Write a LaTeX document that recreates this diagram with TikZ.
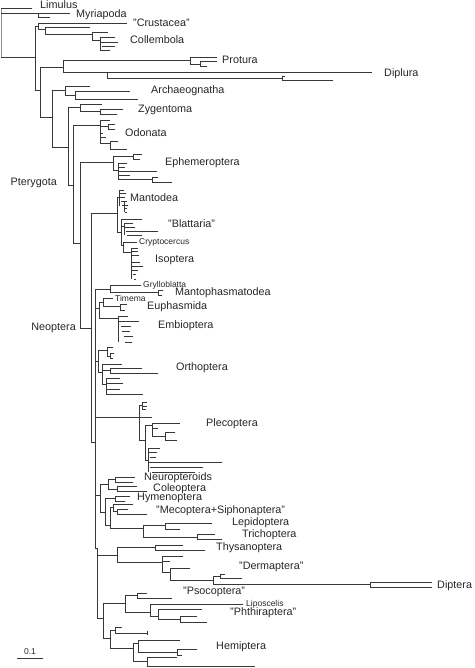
\documentclass[tikz,border=0pt]{standalone}
\usepackage{fontspec}
\setmainfont{Liberation Sans}
\newcommand\hseg[3]{\draw[br] (#2,#1) -- (#3,#1);}
\newcommand\vseg[3]{\draw[br] (#1,#2) -- (#1,#3);}
\begin{document}
\begin{tikzpicture}[x=1pt,y=-1pt,
 br/.style={line width=0.65pt,draw=black!78,line cap=rect},
 lab/.style={anchor=west,inner sep=0pt,font=\fontsize{10.8}{10.8}\selectfont,text=black!85},
 labr/.style={anchor=east,inner sep=0pt,font=\fontsize{10.8}{10.8}\selectfont,text=black!85},
 sml/.style={anchor=west,inner sep=0pt,font=\fontsize{8.5}{8.5}\selectfont,text=black!85}]
\useasboundingbox (0,0) rectangle (474,668);
% root
\draw[br,draw=black!45] (1,8) -- (1,57);
\hseg{8}{1}{32}
\hseg{13}{1}{38}
\vseg{38}{13}{17}
\hseg{13}{38}{70}
\hseg{17}{38}{50}
\hseg{57}{1}{35}
\vseg{35}{26}{90}
% Crustacea + Collembola
\hseg{26}{35}{38}
\vseg{38}{23}{29}
\hseg{23}{38}{127}
\hseg{29}{38}{45}
\vseg{45}{27}{34}
\hseg{27}{45}{90}
\hseg{34}{45}{92}
\vseg{92}{32}{40}
\hseg{32}{92}{108}
\hseg{40}{92}{100}
\vseg{100}{37}{50}
\hseg{37}{100}{115}
\hseg{42}{100}{118}
\hseg{46}{102}{115}
\hseg{50}{100}{110}
% Protura / Diplura
\hseg{90}{35}{40}
\vseg{40}{67}{117}
\hseg{67}{40}{63}
\vseg{63}{60}{72}
\hseg{60}{63}{190}
\vseg{190}{57}{64}
\hseg{57}{190}{217}
\hseg{64}{190}{200}
\vseg{200}{61}{66}
\hseg{61}{200}{217}
\hseg{66}{200}{207}
\hseg{72}{63}{372}
\vseg{107}{72}{78}
\hseg{78}{107}{282}
\vseg{282}{76}{80}
\hseg{76}{282}{285}
\hseg{80}{282}{333}
% Archaeognatha
\hseg{117}{40}{52}
\vseg{52}{90}{147}
\hseg{90}{52}{65}
\vseg{65}{86}{95}
\hseg{86}{65}{90}
\hseg{95}{65}{75}
\vseg{75}{91}{99}
\hseg{91}{75}{130}
\hseg{99}{75}{138}
% Zygentoma
\hseg{147}{52}{68}
\vseg{68}{107}{185}
\hseg{107}{68}{80}
\vseg{80}{104}{111}
\hseg{104}{80}{102}
\hseg{111}{80}{100}
\vseg{100}{109}{114}
\hseg{109}{100}{123}
\hseg{114}{100}{117}
% Pterygota
\hseg{185}{68}{73}
\vseg{73}{125}{243}
% Odonata
\hseg{125}{73}{100}
\vseg{100}{120}{143}
\hseg{120}{100}{110}
\hseg{126}{100}{108}
\vseg{108}{124}{129}
\hseg{124}{108}{115}
\hseg{129}{108}{115}
\hseg{133}{100}{103}
\hseg{137}{100}{106}
\hseg{143}{100}{110}
\vseg{110}{141}{149}
\hseg{141}{110}{118}
\hseg{149}{110}{127}
% Ephemeroptera
\hseg{243}{73}{80}
\vseg{80}{162}{328}
\hseg{162}{80}{113}
\vseg{113}{156}{170}
\hseg{156}{113}{133}
\vseg{133}{154}{159}
\hseg{154}{133}{142}
\hseg{159}{133}{140}
\hseg{170}{113}{118}
\vseg{118}{163}{179}
\hseg{163}{118}{127}
\hseg{167}{118}{125}
\hseg{171}{118}{157}
\hseg{175}{118}{130}
\hseg{179}{118}{152}
\vseg{152}{177}{182}
\hseg{177}{152}{158}
\hseg{182}{152}{172}
% Neoptera
\hseg{328}{80}{91}
\vseg{91}{213}{442}
% Dictyoptera
\hseg{213}{91}{117}
\vseg{117}{197}{232}
\hseg{197}{117}{119}
\vseg{119}{190}{206}
\hseg{190}{119}{124}
\hseg{193}{120}{126}
\hseg{197}{119}{125}
\hseg{201}{121}{127}
\hseg{205}{122}{128}
\vseg{124}{201}{212}
\hseg{208}{124}{127}
\hseg{212}{125}{127}
\hseg{232}{117}{121}
\vseg{121}{219}{245}
\hseg{219}{121}{142}
\hseg{226}{121}{124}
\vseg{124}{223}{235}
\hseg{223}{124}{133}
\hseg{227}{125}{135}
\hseg{231}{126}{158}
\hseg{235}{127}{142}
\hseg{245}{121}{123}
\vseg{123}{242}{252}
\hseg{242}{123}{137}
\hseg{252}{123}{131}
\vseg{131}{248}{279}
\hseg{248}{131}{138}
\hseg{251}{132}{138}
\hseg{255}{132}{139}
\hseg{262}{131}{140}
\hseg{266}{131}{143}
\hseg{270}{132}{138}
\hseg{274}{133}{136}
\hseg{279}{134}{136}
% Polyneoptera rest
\hseg{442}{91}{95}
\vseg{95}{289}{548}
\hseg{289}{95}{110}
\vseg{110}{285}{292}
\hseg{285}{110}{141}
\hseg{292}{110}{158}
\vseg{158}{290}{295}
\hseg{290}{158}{163}
\hseg{295}{158}{162}
\hseg{308}{95}{99}
\vseg{99}{302}{318}
\hseg{302}{99}{103}
\vseg{103}{298}{306}
\hseg{298}{103}{113}
\hseg{306}{103}{120}
\vseg{120}{304}{310}
\hseg{304}{120}{127}
\hseg{310}{120}{125}
\hseg{318}{99}{118}
\vseg{118}{316}{342}
\hseg{316}{118}{128}
\hseg{321}{119}{139}
\hseg{326}{121}{131}
\hseg{331}{122}{130}
\hseg{336}{124}{133}
\hseg{342}{125}{132}
% Orthoptera
\hseg{361}{95}{98}
\vseg{98}{350}{372}
\hseg{350}{98}{107}
\vseg{107}{347}{356}
\hseg{347}{107}{113}
\hseg{356}{107}{110}
\vseg{110}{353}{358}
\hseg{353}{110}{114}
\hseg{358}{110}{113}
\hseg{372}{98}{102}
\vseg{102}{364}{384}
\hseg{364}{102}{122}
\hseg{370}{102}{110}
\vseg{110}{368}{373}
\hseg{368}{110}{142}
\hseg{373}{110}{158}
\hseg{384}{102}{106}
\vseg{106}{378}{394}
\hseg{378}{106}{120}
\hseg{383}{106}{123}
\hseg{389}{107}{120}
\hseg{394}{106}{143}
% Plecoptera
\hseg{417}{95}{152}
\vseg{139}{405}{440}
\hseg{405}{139}{142}
\vseg{142}{402}{409}
\hseg{402}{142}{147}
\hseg{406}{142}{147}
\hseg{409}{142}{146}
\hseg{440}{139}{145}
\vseg{145}{425}{460}
\hseg{425}{145}{152}
\vseg{152}{423}{436}
\hseg{423}{152}{180}
\hseg{428}{153}{158}
\hseg{436}{152}{165}
\vseg{165}{432}{440}
\hseg{432}{165}{175}
\hseg{440}{165}{177}
\hseg{460}{145}{148}
\vseg{148}{448}{472}
\hseg{448}{148}{160}
\hseg{452}{149}{157}
\hseg{457}{150}{156}
\hseg{462}{148}{222}
\hseg{467}{150}{203}
\hseg{472}{152}{195}
% Holometabola
\hseg{495}{95}{100}
\vseg{100}{484}{512}
\hseg{484}{100}{108}
\vseg{108}{479}{489}
\hseg{479}{108}{115}
\vseg{115}{477}{482}
\hseg{477}{115}{135}
\hseg{482}{115}{133}
\hseg{489}{108}{117}
\vseg{117}{486}{491}
\hseg{486}{117}{137}
\hseg{491}{117}{147}
\hseg{512}{100}{105}
\vseg{105}{498}{525}
\hseg{498}{105}{115}
\vseg{115}{496}{501}
\hseg{496}{115}{130}
\hseg{501}{115}{125}
\hseg{525}{105}{110}
\vseg{110}{507}{528}
\hseg{507}{110}{113}
\vseg{113}{504}{511}
\hseg{504}{113}{133}
\hseg{511}{113}{117}
\vseg{117}{509}{514}
\hseg{509}{117}{128}
\hseg{514}{117}{147}
\hseg{528}{110}{143}
\vseg{143}{525}{537}
\hseg{525}{143}{165}
\vseg{165}{523}{529}
\hseg{523}{165}{212}
\hseg{529}{165}{180}
\hseg{537}{143}{197}
\vseg{197}{534}{539}
\hseg{534}{197}{215}
\hseg{539}{197}{222}
% Paraneoptera
\hseg{548}{95}{97}
\vseg{97}{548}{618}
\hseg{555}{97}{117}
\vseg{117}{547}{562}
\hseg{547}{117}{155}
\vseg{155}{545}{550}
\hseg{545}{155}{183}
\hseg{550}{155}{205}
\hseg{562}{117}{162}
\vseg{162}{556}{572}
\hseg{556}{162}{183}
\hseg{561}{163}{170}
\hseg{572}{162}{170}
\vseg{170}{568}{580}
\hseg{568}{170}{190}
\hseg{580}{170}{213}
\vseg{213}{576}{584}
\hseg{576}{213}{220}
\vseg{220}{574}{578}
\hseg{574}{220}{225}
\hseg{578}{220}{242}
\hseg{584}{213}{370}
\vseg{370}{582}{587}
\hseg{582}{370}{432}
\hseg{587}{370}{432}
\hseg{618}{97}{103}
\vseg{103}{603}{638}
\hseg{603}{103}{125}
\vseg{125}{595}{612}
\hseg{595}{125}{137}
\vseg{137}{593}{598}
\hseg{593}{137}{147}
\hseg{598}{137}{172}
\hseg{612}{125}{150}
\vseg{150}{604}{616}
\hseg{604}{150}{243}
\hseg{616}{150}{158}
\vseg{158}{609}{619}
\hseg{609}{158}{202}
\hseg{619}{158}{180}
\vseg{180}{616}{622}
\hseg{616}{180}{197}
\hseg{622}{180}{207}
% Hemiptera
\hseg{638}{103}{110}
\vseg{110}{630}{648}
\hseg{630}{110}{115}
\vseg{115}{627}{633}
\hseg{627}{115}{122}
\hseg{633}{115}{147}
\vseg{147}{631}{635}
\hseg{648}{110}{133}
\vseg{133}{643}{661}
\hseg{643}{133}{138}
\vseg{138}{640}{652}
\hseg{640}{138}{180}
\hseg{652}{138}{177}
\vseg{177}{649}{655}
\hseg{649}{177}{197}
\hseg{655}{177}{182}
\hseg{661}{133}{147}
\vseg{147}{657}{666}
\hseg{657}{147}{177}
\hseg{666}{147}{255}
% scale bar
\coordinate (sb1) at (17,658);
\coordinate (sb2) at (43,658);
\draw[br] (sb1) -- (sb2);
\node[anchor=south,inner sep=0pt,font=\fontsize{8.5}{8.5}\selectfont,text=black!85] (scale) at (30,655) {0.1};
% labels
\node[lab] (limulus) at (40,5) {Limulus};
\node[lab] (myriapoda) at (76,15) {Myriapoda};
\node[lab] (crustacea) at (133,23) {"Crustacea"};
\node[lab] (collembola) at (130,40) {Collembola};
\node[lab] (protura) at (222,60) {Protura};
\node[lab] (diplura) at (384,74) {Diplura};
\node[lab] (archaeo) at (151,91) {Archaeognatha};
\node[lab] (zygentoma) at (138,110) {Zygentoma};
\node[lab] (odonata) at (125,133) {Odonata};
\node[lab] (ephem) at (165,163) {Ephemeroptera};
\node[labr] (pterygota) at (57,183) {Pterygota};
\node[lab] (mantodea) at (130,198) {Mantodea};
\node[lab] (blattaria) at (168,224) {"Blattaria"};
\node[sml] (crypto) at (139,242) {Cryptocercus};
\node[lab] (isoptera) at (155,260) {Isoptera};
\node[sml] (gryllo) at (143,285) {Grylloblatta};
\node[lab] (mantoph) at (175,293) {Mantophasmatodea};
\node[sml] (timema) at (115,298) {Timema};
\node[lab] (euphas) at (147,307) {Euphasmida};
\node[lab] (embio) at (158,326) {Embioptera};
\node[labr] (neoptera) at (76,328) {Neoptera};
\node[lab] (ortho) at (176,368) {Orthoptera};
\node[lab] (pleco) at (206,424) {Plecoptera};
\node[lab] (neuro) at (144,478) {Neuropteroids};
\node[lab] (coleo) at (153,488.5) {Coleoptera};
\node[lab] (hymeno) at (137,498) {Hymenoptera};
\node[lab] (mecop) at (156,511) {"Mecoptera+Siphonaptera"};
\node[lab] (lepido) at (232,523) {Lepidoptera};
\node[lab] (tricho) at (242,535) {Trichoptera};
\node[lab] (thysano) at (216,548) {Thysanoptera};
\node[lab] (derma) at (239,567) {"Dermaptera"};
\node[lab] (diptera) at (437,586) {Diptera};
\node[lab] (psoco) at (183,592) {"Psocoptera"};
\node[sml] (liposc) at (246,604) {Liposcelis};
\node[lab] (phthir) at (230,613) {"Phthiraptera"};
\node[lab] (hemip) at (216,647) {Hemiptera};
\end{tikzpicture}
\end{document}
